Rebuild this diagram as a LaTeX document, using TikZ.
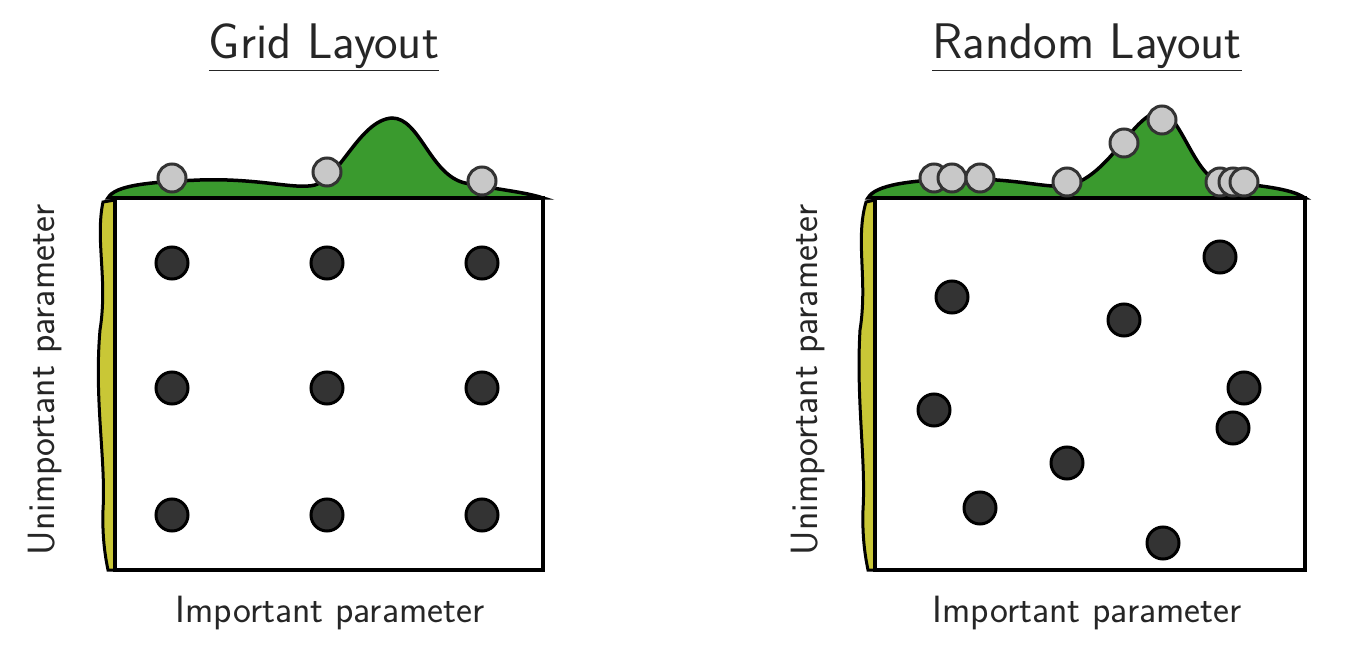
\documentclass[tikz,border=0pt]{standalone}
\usepackage{xcolor}
\definecolor{grn}{HTML}{3A9A2E}
\definecolor{ylw}{HTML}{C9C736}
\definecolor{dot}{HTML}{333333}
\definecolor{lg}{HTML}{C8C8C8}
\tikzset{pt/.style={circle,draw=black,line width=3pt,fill=dot,minimum size=32pt,inner sep=0pt},
gpt/.style={circle,draw=black!80,line width=3pt,fill=lg,minimum size=28pt,inner sep=0pt},
bx/.style={draw=black,line width=4pt},
lbl/.style={font=\sffamily\fontsize{38}{38}\selectfont,text=black!85},
ttl/.style={font=\sffamily\fontsize{50}{50}\selectfont,text=black!85}}
\begin{document}
\begin{tikzpicture}[x=1pt,y=-1pt]
\useasboundingbox (0,0) rectangle (1358,668);
% left panel
\fill[grn,draw=black,line width=3.5pt] (108,198) .. controls (115,185) and (150,182) .. (200,180) .. controls (260,178) and (295,190) .. (315,185) .. controls (340,178) and (360,120) .. (392,118) .. controls (420,118) and (430,175) .. (465,183) .. controls (500,190) and (525,192) .. (543,198) -- cycle;
\fill[ylw,draw=black,line width=3pt] (115,200) -- (103,202) .. controls (95,240) and (108,280) .. (100,330) .. controls (94,400) and (106,460) .. (103,510) .. controls (102,540) and (106,560) .. (108,570) -- (115,570) -- cycle;
\fill[white] (115,198) rectangle (543,570);
\draw[bx] (115,198) rectangle (543,570);
\foreach \x [count=\i] in {172,327,482}{
  \foreach \y [count=\j] in {263,388,515}{\node[pt] (g\i\j) at (\x,\y) {};}}
\node[gpt] (gt1) at (172,178) {};
\node[gpt] (gt2) at (327,172) {};
\node[gpt] (gt3) at (482,181) {};
\node[ttl] (t1) at (324,47) {\underline{Grid Layout}};
\node[lbl] (x1) at (330,613) {Important parameter};
\node[lbl,rotate=90] (y1) at (45,380) {Unimportant parameter};
% right panel
\fill[grn,draw=black,line width=3.5pt] (868,198) .. controls (875,185) and (910,180) .. (960,179) .. controls (1020,178) and (1050,190) .. (1070,185) .. controls (1110,175) and (1135,112) .. (1160,112) .. controls (1180,112) and (1195,178) .. (1220,181) .. controls (1260,186) and (1290,188) .. (1305,198) -- cycle;
\fill[ylw,draw=black,line width=3pt] (875,200) -- (866,202) .. controls (855,240) and (868,280) .. (860,330) .. controls (856,400) and (866,460) .. (863,510) .. controls (862,540) and (866,560) .. (868,570) -- (875,570) -- cycle;
\fill[white] (875,198) rectangle (1305,570);
\draw[bx] (875,198) rectangle (1305,570);
\foreach \p [count=\i] in {(1220,257),(952,297),(1124,320),(1244,388),(934,410),(1233,428),(1067,463),(980,508),(1163,543)}
  \node[pt] (r\i) at \p {};
\foreach \p [count=\i] in {(934,178),(952,178),(980,178),(1067,182),(1124,143),(1162,120),(1220,182),(1233,182),(1244,182)}
  \node[gpt] (rt\i) at \p {};
\node[ttl] (t2) at (1087,47) {\underline{Random Layout}};
\node[lbl] (x2) at (1087,613) {Important parameter};
\node[lbl,rotate=90] (y2) at (808,380) {Unimportant parameter};
\end{tikzpicture}
\end{document}
